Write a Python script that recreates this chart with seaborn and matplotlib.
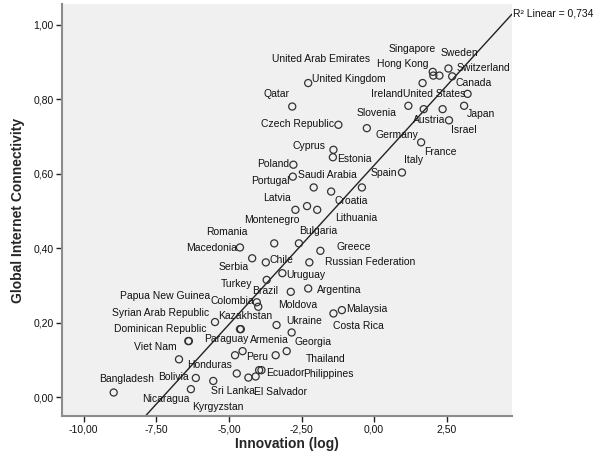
import matplotlib
matplotlib.use("Agg")
import pandas as pd
import matplotlib.pyplot as plt
import seaborn as sns
from matplotlib.ticker import FuncFormatter

# values ("" = point without a label)
countries = [
    "Singapore", "Hong Kong", "Canada", "Sweden", "Switzerland", "",
    "United States", "Ireland", "Austria", "", "Japan", "Israel",
    "Slovenia", "Czech Republic", "Germany", "France", "Italy", "Spain",
    "Cyprus", "Estonia", "Qatar", "United Kingdom", "United Arab Emirates",
    "Poland", "Portugal", "Saudi Arabia", "Croatia", "Latvia", "Montenegro",
    "Lithuania", "Macedonia", "Romania", "Bulgaria", "Greece", "Serbia",
    "Chile", "Russian Federation", "Uruguay", "Turkey", "Brazil", "Argentina",
    "Colombia", "Moldova", "Malaysia", "Costa Rica", "Ukraine",
    "Syrian Arab Republic", "Kazakhstan", "Paraguay", "Georgia",
    "Dominican Republic", "Papua New Guinea", "Viet Nam", "Honduras", "Peru",
    "Armenia", "Thailand", "Sri Lanka", "", "El Salvador", "Ecuador",
    "Philippines", "Bolivia", "Kyrgyzstan", "Nicaragua", "Bangladesh",
]
innovation = [
    2.02, 2.04, 2.25, 2.56, 2.69, 1.67,
    3.22, 1.18, 1.71, 2.36, 3.10, 2.58,
    -0.25, -1.23, 1.62, 1.62, 0.96, -0.42,
    -1.40, -1.42, -2.82, -2.27, -2.27,
    -2.78, -2.80, -2.08, -1.48, -2.31, -2.71,
    -1.96, -4.62, -3.44, -2.59, -1.85, -4.20,
    -3.73, -2.23, -3.16, -3.70, -2.87, -2.27,
    -4.04, -3.99, -1.11, -1.40, -3.36,
    -5.48, -4.62, -4.59, -2.84,
    -6.40, -6.38, -6.72, -4.79, -4.53,
    -3.39, -3.01, -4.73, -4.33, -4.08, -3.96,
    -3.88, -6.14, -5.54, -6.31, -8.97,
]
connectivity = [
    0.873, 0.863, 0.863, 0.882, 0.861, 0.843,
    0.814, 0.782, 0.773, 0.773, 0.782, 0.743,
    0.722, 0.731, 0.684, 0.684, 0.603, 0.563,
    0.664, 0.644, 0.780, 0.843, 0.843,
    0.624, 0.592, 0.563, 0.552, 0.513, 0.503,
    0.503, 0.402, 0.413, 0.413, 0.393, 0.373,
    0.362, 0.362, 0.333, 0.315, 0.283, 0.292,
    0.255, 0.243, 0.234, 0.225, 0.194,
    0.202, 0.183, 0.183, 0.174,
    0.151, 0.151, 0.102, 0.113, 0.124,
    0.113, 0.124, 0.064, 0.053, 0.056, 0.073,
    0.073, 0.052, 0.044, 0.022, 0.013,
]
x_ticks = [-10.0, -7.5, -5.0, -2.5, 0.0, 2.5]
y_ticks = [0.0, 0.2, 0.4, 0.6, 0.8, 1.0]
r2_text = "0,734"

# label placement, offset from its point in pixels (dx, dy up)
label_offsets = {
    "Singapore": (-44, 23), "Hong Kong": (-56, 12), "Canada": (16, -7),
    "Sweden": (-8, 16), "Switzerland": (4, 8), "United States": (-65, 0),
    "Ireland": (-37, 12), "Austria": (-11, -11), "Japan": (3, -8),
    "Israel": (2, -10), "Slovenia": (-10, 15), "Czech Republic": (-77, 1),
    "Germany": (-46, 7), "France": (3, -10), "Italy": (2, 13),
    "Spain": (9, 14), "Cyprus": (-41, 4), "Estonia": (4, -2),
    "Qatar": (-29, 13), "United Kingdom": (4, 4),
    "United Arab Emirates": (-36, 24), "Poland": (-36, 1),
    "Portugal": (-42, -4), "Saudi Arabia": (-16, 12), "Croatia": (3, -9),
    "Latvia": (-44, 8), "Montenegro": (-51, -10), "Lithuania": (18, -8),
    "Macedonia": (-54, -1), "Romania": (-68, 11), "Bulgaria": (0, 12),
    "Greece": (16, 4), "Serbia": (-34, -9), "Chile": (4, 2),
    "Russian Federation": (16, 0), "Uruguay": (4, -2), "Turkey": (-46, -4),
    "Brazil": (-39, 1), "Argentina": (9, -2), "Colombia": (-46, 1),
    "Moldova": (20, 2), "Malaysia": (4, 1), "Costa Rica": (0, -13),
    "Ukraine": (10, 4), "Syrian Arab Republic": (-103, 9),
    "Kazakhstan": (-22, 13), "Paraguay": (-37, -10), "Georgia": (3, -10),
    "Dominican Republic": (-74, 12), "Papua New Guinea": (-69, 45),
    "Viet Nam": (-45, 12), "Honduras": (-48, -10), "Peru": (4, -6),
    "Armenia": (-26, 15), "Thailand": (19, -8), "Sri Lanka": (-26, -18),
    "El Salvador": (-2, -16), "Ecuador": (7, -3), "Philippines": (42, -4),
    "Bolivia": (-38, 1), "Kyrgyzstan": (-21, -26), "Nicaragua": (-49, -10),
    "Bangladesh": (-15, 14),
}

df = pd.DataFrame({"country": countries,
                   "innovation": innovation,
                   "connectivity": connectivity})

sns.set_style("white")
plt.rcParams["font.family"] = ["Liberation Sans", "DejaVu Sans"]

fig = plt.figure(figsize=(5.98, 4.67), dpi=100)
ax = fig.add_axes([62 / 598, 1 - 416 / 467, 450 / 598, 412 / 467])
ax.set_facecolor("#f0f0f0")
ax.set_xlim(-10.75, 4.75)
ax.set_ylim(-0.05, 1.055)

# linear fit across the full x range
sns.regplot(data=df, x="innovation", y="connectivity", scatter=False,
            ci=None, truncate=False, ax=ax,
            line_kws=dict(color="#222222", lw=1.0))
# drop exact duplicates so shared positions are not drawn darker
pts = df.drop_duplicates(subset=["innovation", "connectivity"])
sns.scatterplot(data=pts, x="innovation", y="connectivity", marker="o", s=26,
                facecolor="none", edgecolor="#333333", linewidth=0.9,
                ax=ax, zorder=3)

for _, row in df.iterrows():
    if not row["country"]:
        continue
    dx, dy = label_offsets[row["country"]]
    ax.annotate(row["country"], (row["innovation"], row["connectivity"]),
                xytext=(dx, dy), textcoords="offset pixels",
                ha="left", va="center", fontsize=7.5, color="#111111")

ax.set_xlim(-10.75, 4.75)
ax.set_ylim(-0.05, 1.055)
ax.set_xticks(x_ticks)
ax.set_yticks(y_ticks)
comma = FuncFormatter(lambda v, p: f"{v:.2f}".replace(".", ","))
ax.xaxis.set_major_formatter(comma)
ax.yaxis.set_major_formatter(comma)
ax.tick_params(bottom=True, left=True, direction="out", length=4, width=1,
               color="#222222", labelsize=7.5, pad=2, labelcolor="#111111")

for side in ["top", "right"]:
    ax.spines[side].set_visible(False)
for side in ["left", "bottom"]:
    ax.spines[side].set_color("#8c8c8c")
    ax.spines[side].set_linewidth(1.5)

ax.set_xlabel("Innovation (log)", fontsize=10, fontweight="bold", labelpad=2)
ax.set_ylabel("Global Internet Connectivity", fontsize=10, fontweight="bold",
              labelpad=6)

fig.text(513 / 598, 1 - 14 / 467, f"R² Linear = {r2_text}", fontsize=7.5,
         ha="left", va="center", color="#111111")

fig.savefig("out.png", dpi=100)
